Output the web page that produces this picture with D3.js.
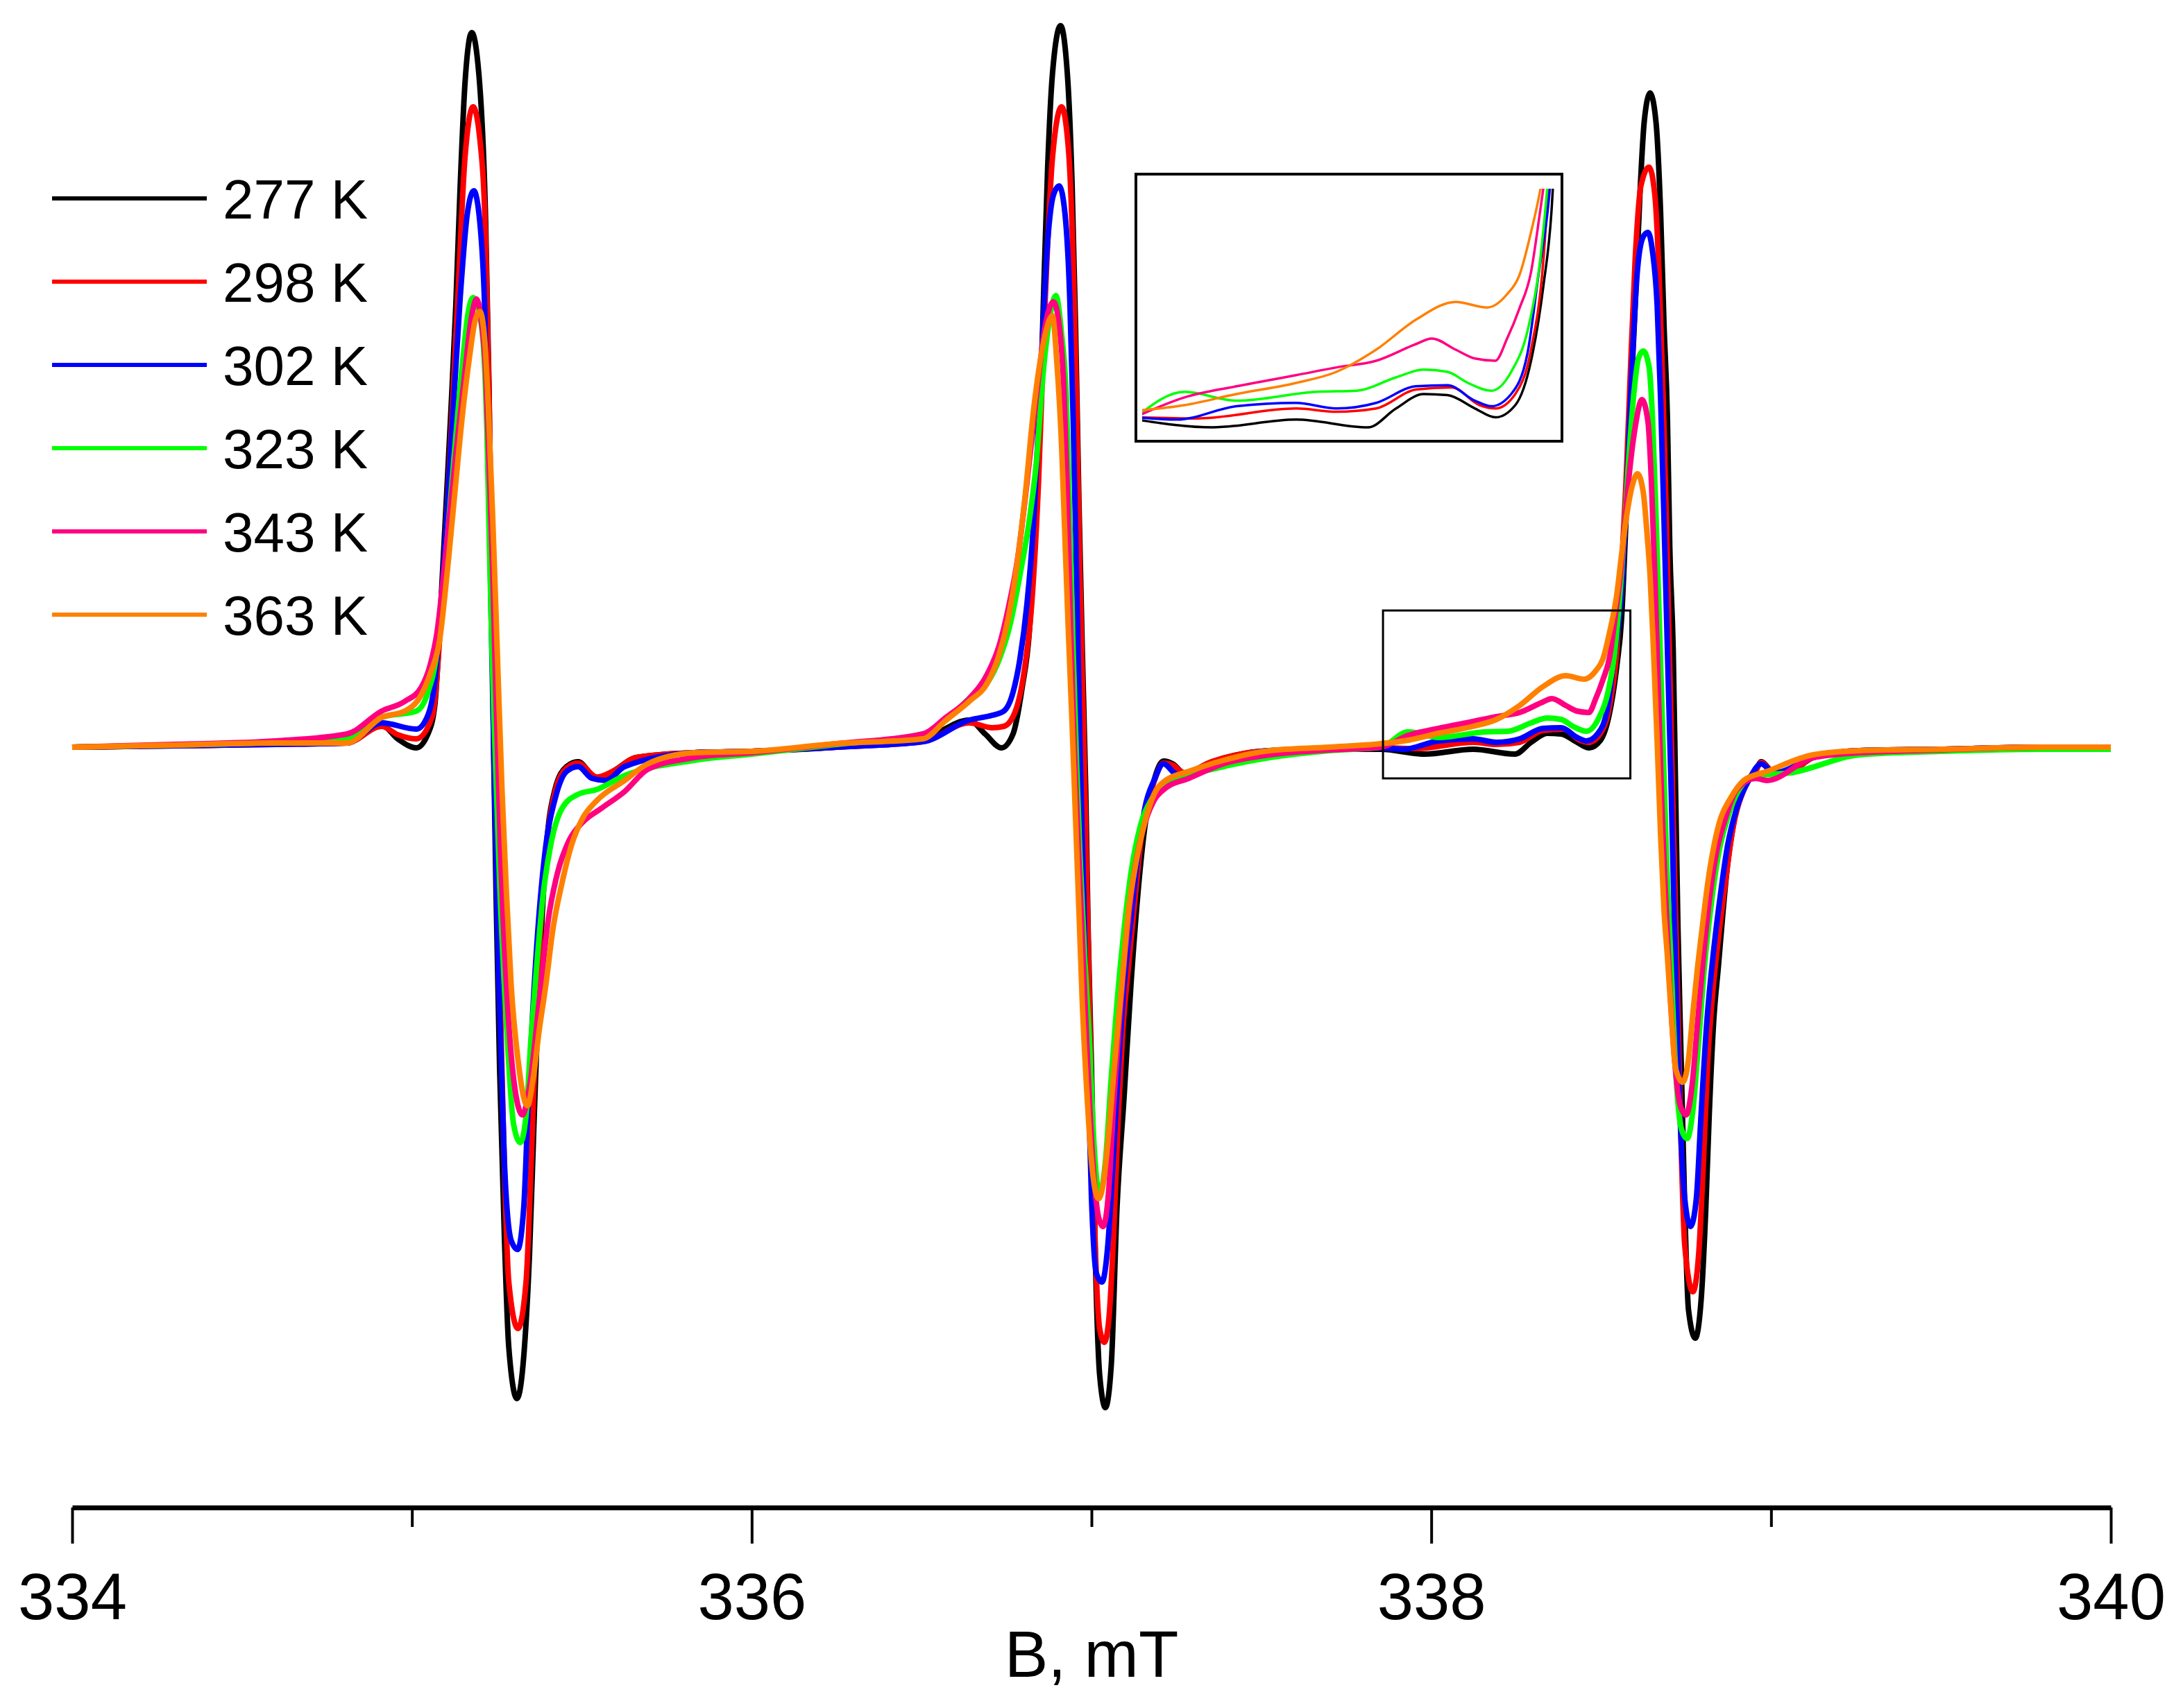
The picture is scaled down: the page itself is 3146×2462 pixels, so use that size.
<!DOCTYPE html>
<html>
<head>
<meta charset="utf-8">
<script src="https://cdn.jsdelivr.net/npm/d3@7"></script>
<style>
  body { margin: 0; background: #fff; }
</style>
</head>
<body>
<div id="chart"></div>
<script>
// EPR spectra at six temperatures, B in mT, signal in arbitrary units
const temps  = ["277 K", "298 K", "302 K", "323 K", "343 K", "363 K"];
const colors = ["#000000", "#ff0000", "#0000ff", "#00ff00", "#ff0080", "#ff8000"];

const majorTicks = [334, 336, 338, 340];
const minorTicks = [335, 337, 339];

const s277 = [
  [334.0, 0.0], [334.3, 0.2], [334.6, 0.5],
  [334.809, 1.0], [334.911, 3.2], [334.958, 1.2], [335.013, -0.1], [335.047, 1.9], [335.067, 5.9],
  [335.088, 23.3], [335.101, 35.4], [335.115, 48.8], [335.129, 63.5], [335.142, 80.9], [335.156, 95.6],
  [335.176, 103.0], [335.197, 97.0], [335.217, 75.6], [335.227, 51.4], [335.234, 24.7], [335.241, -2.1],
  [335.248, -22.2], [335.258, -46.3], [335.272, -70.4], [335.285, -86.5], [335.309, -93.9], [335.333, -85.2],
  [335.346, -73.1], [335.360, -53.0], [335.374, -34.3], [335.394, -15.5], [335.421, -6.1], [335.455, -2.8],
  [335.489, -2.1], [335.544, -4.5], [335.591, -3.5], [335.659, -1.5], [335.830, -0.8],
  [336.0, -0.6], [336.25, 0.0],
  [336.504, 1.2], [336.640, 3.9], [336.687, 1.9], [336.735, -0.1], [336.769, 1.9], [336.796, 8.6],
  [336.817, 16.6], [336.830, 27.3], [336.844, 40.7], [336.858, 63.5], [336.871, 83.6], [336.885, 97.0],
  [336.909, 104.0], [336.929, 97.0], [336.943, 80.9], [336.953, 60.8], [336.963, 35.4], [336.973, 13.9],
  [336.983, -6.1], [336.990, -26.2], [337.000, -46.3], [337.011, -73.1], [337.024, -90.5], [337.041, -95.2],
  [337.058, -89.2], [337.075, -66.4], [337.096, -50.3], [337.116, -34.3], [337.157, -11.5], [337.184, -4.8],
  [337.212, -2.0], [337.239, -2.4], [337.273, -3.7], [337.354, -2.1], [337.524, -0.5],
  [337.700, -0.3],
  [337.851, -0.3], [337.980, -1.0], [338.123, -0.3], [338.246, -1.0], [338.294, 0.7], [338.341, 2.0],
  [338.382, 1.9], [338.429, 0.7], [338.464, -0.1], [338.498, 1.0], [338.525, 5.0], [338.546, 11.7],
  [338.560, 18.5], [338.573, 32.7], [338.586, 48.8], [338.600, 63.5], [338.614, 79.6], [338.627, 90.3],
  [338.644, 94.3], [338.661, 90.3], [338.675, 76.9], [338.685, 60.8], [338.695, 47.4], [338.702, 28.7],
  [338.712, 14.0], [338.719, -6.1], [338.726, -26.2], [338.736, -46.3], [338.746, -66.4], [338.757, -81.1],
  [338.777, -85.2], [338.794, -79.8], [338.808, -66.4], [338.818, -53.0], [338.831, -39.6], [338.845, -31.6],
  [338.859, -23.5], [338.872, -16.9], [338.893, -10.2], [338.920, -5.5], [338.954, -3.5], [338.971, -2.1],
  [339.009, -3.7], [339.056, -3.5], [339.124, -1.5], [339.260, -0.5],
  [339.5, -0.3], [339.8, 0.0], [340.0, 0.0]
];

const s298 = [
  [334.0, 0.0], [334.3, 0.2], [334.6, 0.4],
  [334.809, 0.6], [334.911, 3.0], [334.958, 1.8], [335.013, 1.2], [335.061, 4.6], [335.088, 20.6],
  [335.115, 44.8], [335.135, 64.8], [335.156, 84.9], [335.180, 92.3], [335.200, 87.6], [335.217, 72.9],
  [335.227, 50.1], [335.236, 24.7], [335.244, 0.2], [335.255, -26.2], [335.268, -53.0], [335.285, -77.1],
  [335.312, -83.8], [335.336, -77.0], [335.353, -57.0], [335.370, -34.3], [335.394, -15.5], [335.421, -6.5],
  [335.455, -3.0], [335.489, -2.3], [335.544, -4.3], [335.591, -3.5], [335.659, -1.5], [335.830, -0.8],
  [336.0, -0.6], [336.25, 0.0],
  [336.504, 0.8], [336.640, 3.5], [336.708, 2.8], [336.742, 3.0], [336.776, 5.2], [336.803, 11.3],
  [336.824, 20.6], [336.844, 38.1], [336.864, 64.8], [336.885, 84.9], [336.912, 92.3], [336.932, 86.3],
  [336.946, 70.2], [336.956, 50.1], [336.966, 24.7], [336.977, 1.9], [336.987, -20.9], [336.997, -43.6],
  [337.011, -71.8], [337.024, -83.8], [337.038, -85.8], [337.051, -82.5], [337.065, -70.4], [337.079, -53.0],
  [337.092, -41.0], [337.109, -31.6], [337.130, -20.9], [337.150, -11.5], [337.184, -5.0], [337.212, -2.3],
  [337.239, -2.6], [337.273, -3.7], [337.354, -2.1], [337.524, -0.5],
  [337.700, -0.3],
  [337.851, -0.1], [337.953, -0.2], [338.123, 0.7], [338.192, 0.4], [338.260, 0.7], [338.328, 2.4],
  [338.389, 2.6], [338.437, 1.0], [338.464, 0.7], [338.498, 2.0], [338.525, 6.0], [338.546, 14.0],
  [338.559, 24.7], [338.573, 38.1], [338.586, 54.1], [338.600, 70.2], [338.617, 80.9], [338.641, 83.6],
  [338.658, 79.6], [338.671, 67.5], [338.682, 51.4], [338.692, 32.7], [338.702, 11.3], [338.712, -10.2],
  [338.723, -31.6], [338.733, -53.0], [338.746, -71.8], [338.770, -78.5], [338.787, -73.1], [338.801, -59.7],
  [338.814, -45.0], [338.828, -35.6], [338.845, -27.6], [338.862, -20.9], [338.886, -12.2], [338.920, -6.1],
  [338.954, -3.5], [338.971, -2.2], [339.009, -3.7], [339.056, -3.5], [339.124, -1.5], [339.260, -0.5],
  [339.5, -0.3], [339.8, 0.0], [340.0, 0.0]
];

const s302 = [
  [334.0, 0.0], [334.3, 0.2], [334.6, 0.4],
  [334.809, 0.6], [334.911, 3.5], [335.013, 2.6], [335.047, 4.6], [335.067, 9.3], [335.088, 22.0],
  [335.115, 43.4], [335.142, 64.8], [335.163, 76.9], [335.182, 80.2], [335.200, 75.6], [335.214, 63.5],
  [335.225, 40.7], [335.234, 16.6], [335.243, -6.1], [335.255, -32.9], [335.272, -59.7], [335.292, -71.1],
  [335.311, -72.4], [335.329, -66.4], [335.343, -50.3], [335.367, -28.9], [335.394, -14.2], [335.421, -7.5],
  [335.455, -3.5], [335.489, -2.8], [335.530, -4.5], [335.571, -4.8], [335.626, -2.8], [335.830, -0.8],
  [336.0, -0.6], [336.25, 0.0],
  [336.504, 0.8], [336.640, 3.9], [336.708, 4.6], [336.742, 5.2], [336.769, 7.9], [336.789, 12.6],
  [336.810, 20.6], [336.830, 32.7], [336.851, 54.1], [336.871, 72.9], [336.888, 79.6], [336.905, 80.9],
  [336.922, 76.9], [336.936, 64.8], [336.946, 47.4], [336.956, 24.7], [336.966, 0.6], [336.977, -20.9],
  [336.987, -42.3], [337.000, -65.1], [337.014, -75.8], [337.031, -77.1], [337.048, -71.8], [337.062, -61.1],
  [337.079, -46.3], [337.096, -34.3], [337.116, -24.9], [337.137, -15.5], [337.157, -8.8], [337.184, -4.8],
  [337.212, -2.4], [337.252, -3.9], [337.320, -3.2], [337.524, -0.5],
  [337.700, -0.3],
  [337.851, -0.1], [337.919, -0.3], [338.021, 0.9], [338.123, 1.2], [338.192, 0.7], [338.260, 1.2],
  [338.328, 2.7], [338.382, 2.8], [338.429, 1.4], [338.457, 0.9], [338.491, 2.0], [338.519, 5.7],
  [338.535, 11.7], [338.563, 24.7], [338.576, 38.1], [338.590, 54.1], [338.607, 68.9], [338.624, 73.6],
  [338.638, 74.2], [338.651, 71.5], [338.665, 63.5], [338.675, 50.1], [338.685, 32.7], [338.695, 14.0],
  [338.706, -6.1], [338.716, -26.2], [338.729, -49.0], [338.746, -65.1], [338.763, -69.1], [338.780, -65.1],
  [338.794, -53.0], [338.811, -39.6], [338.832, -28.9], [338.852, -20.9], [338.872, -14.2], [338.899, -8.8],
  [338.934, -4.8], [338.971, -2.4], [339.009, -3.7], [339.124, -1.5], [339.260, -0.5],
  [339.5, -0.3], [339.8, 0.0], [340.0, 0.0]
];

const s323 = [
  [334.0, 0.0], [334.3, 0.3], [334.6, 0.7],
  [334.809, 1.2], [334.911, 4.3], [335.013, 5.2], [335.047, 7.9], [335.074, 13.9], [335.095, 24.7],
  [335.122, 40.7], [335.149, 55.5], [335.166, 62.8], [335.180, 64.8], [335.197, 62.8], [335.210, 58.1],
  [335.221, 44.8], [335.227, 31.4], [335.234, 16.6], [335.244, 0.6], [335.258, -19.5], [335.278, -39.6],
  [335.299, -54.3], [335.319, -57.0], [335.336, -53.0], [335.350, -42.3], [335.367, -31.6], [335.387, -20.9],
  [335.408, -14.2], [335.442, -8.8], [335.489, -6.8], [335.544, -6.1], [335.626, -4.1], [335.830, -1.9],
  [336.0, -1.0], [336.25, 0.4],
  [336.504, 1.9], [336.572, 3.9], [336.640, 7.0], [336.694, 9.3], [336.728, 12.6], [336.762, 18.0],
  [336.789, 24.7], [336.817, 32.7], [336.837, 40.7], [336.858, 54.1], [336.878, 62.2], [336.895, 65.1],
  [336.912, 59.5], [336.926, 50.1], [336.936, 32.7], [336.946, 14.0], [336.956, -2.1], [336.966, -15.5],
  [336.980, -30.2], [336.994, -42.3], [337.007, -57.0], [337.024, -64.4], [337.041, -59.7], [337.058, -47.7],
  [337.075, -36.9], [337.096, -26.2], [337.116, -18.2], [337.143, -11.5], [337.177, -7.5], [337.218, -5.5],
  [337.286, -4.1], [337.388, -2.8], [337.524, -1.5],
  [337.700, -0.5],
  [337.851, 0.0], [337.932, 2.2], [338.021, 1.4], [338.158, 2.2], [338.226, 2.3], [338.294, 3.5],
  [338.341, 4.2], [338.382, 4.0], [338.417, 3.0], [338.457, 2.3], [338.491, 4.0], [338.519, 7.7],
  [338.539, 13.4], [338.563, 27.3], [338.580, 40.7], [338.597, 51.4], [338.610, 56.1], [338.624, 57.1],
  [338.641, 54.8], [338.651, 47.4], [338.661, 34.0], [338.672, 16.6], [338.682, 0.6], [338.692, -15.5],
  [338.706, -31.6], [338.719, -46.3], [338.736, -55.0], [338.753, -56.4], [338.770, -52.3], [338.787, -42.3],
  [338.804, -31.6], [338.825, -22.2], [338.845, -15.5], [338.872, -10.2], [338.906, -6.1], [338.954, -4.1],
  [339.056, -3.7], [339.260, -1.1],
  [339.5, -0.6], [339.8, -0.3], [340.0, -0.3]
];

const s343 = [
  [334.0, 0.0], [334.3, 0.4], [334.6, 0.9],
  [334.809, 1.9], [334.911, 5.2], [334.979, 6.6], [335.027, 8.6], [335.054, 11.9], [335.074, 16.6],
  [335.101, 28.7], [335.129, 42.1], [335.156, 54.1], [335.176, 62.2], [335.190, 64.6], [335.204, 61.5],
  [335.217, 54.1], [335.227, 40.7], [335.238, 24.7], [335.248, 5.9], [335.261, -15.5], [335.278, -34.3],
  [335.299, -47.7], [335.325, -53.0], [335.346, -49.0], [335.374, -36.9], [335.401, -24.9], [335.428, -18.2],
  [335.462, -13.5], [335.503, -10.8], [335.558, -8.8], [335.626, -6.4], [335.694, -3.2], [335.830, -1.5],
  [336.0, -0.8], [336.25, 0.5],
  [336.504, 1.9], [336.572, 4.3], [336.640, 7.0], [336.694, 10.6], [336.728, 14.6], [336.755, 20.0],
  [336.783, 27.3], [336.810, 38.1], [336.837, 50.1], [336.864, 60.8], [336.888, 64.2], [336.905, 60.8],
  [336.919, 51.4], [336.929, 36.7], [336.939, 16.6], [336.949, 0.6], [336.960, -12.8], [336.973, -27.6],
  [336.987, -43.6], [337.004, -59.7], [337.021, -67.8], [337.034, -69.1], [337.051, -63.7], [337.065, -51.7],
  [337.082, -39.6], [337.103, -27.6], [337.123, -18.9], [337.150, -12.2], [337.184, -7.7], [337.218, -5.9],
  [337.286, -4.5], [337.388, -2.4], [337.524, -1.1],
  [337.700, -0.4],
  [337.851, 0.0], [337.932, 1.7], [338.021, 2.7], [338.123, 3.7], [338.192, 4.4], [338.260, 5.0],
  [338.328, 6.5], [338.355, 7.0], [338.396, 6.0], [338.429, 5.2], [338.464, 5.0], [338.484, 7.0],
  [338.505, 9.7], [338.525, 13.0], [338.539, 17.9], [338.559, 26.0], [338.580, 38.1], [338.600, 46.1],
  [338.620, 50.1], [338.638, 46.8], [338.648, 38.1], [338.658, 24.7], [338.668, 8.6], [338.678, -7.5],
  [338.689, -20.9], [338.702, -34.3], [338.716, -45.0], [338.733, -51.7], [338.750, -53.0], [338.767, -49.0],
  [338.784, -39.6], [338.801, -30.2], [338.818, -22.2], [338.838, -15.5], [338.866, -10.2], [338.900, -6.1],
  [338.954, -4.5], [338.988, -4.8], [339.124, -1.5], [339.260, -0.8],
  [339.5, -0.4], [339.8, 0.0], [340.0, 0.0]
];

const s363 = [
  [334.0, 0.0], [334.3, 0.3], [334.6, 0.6],
  [334.809, 0.6], [334.911, 4.3], [334.979, 5.2], [335.027, 7.5], [335.054, 10.6], [335.081, 15.3],
  [335.108, 27.3], [335.129, 38.1], [335.149, 48.1], [335.169, 56.1], [335.186, 61.5], [335.200, 62.8],
  [335.214, 58.8], [335.225, 48.8], [335.238, 32.7], [335.251, 14.0], [335.265, -6.1], [335.278, -20.9],
  [335.292, -34.3], [335.312, -45.0], [335.340, -51.7], [335.357, -47.7], [335.374, -41.0], [335.394, -34.3],
  [335.415, -26.2], [335.442, -19.5], [335.469, -14.2], [335.503, -10.2], [335.544, -7.7], [335.626, -4.8],
  [335.694, -2.4], [335.830, -0.8],
  [336.0, -0.6], [336.25, 0.5],
  [336.504, 1.2], [336.572, 3.9], [336.640, 6.6], [336.694, 9.3], [336.728, 13.3], [336.755, 18.6],
  [336.776, 24.7], [336.803, 35.4], [336.830, 48.8], [336.858, 58.1], [336.885, 62.2], [336.898, 55.5],
  [336.912, 43.4], [336.922, 30.0], [336.932, 16.6], [336.943, 3.2], [336.953, -10.2], [336.963, -23.5],
  [336.973, -36.9], [336.987, -50.3], [337.000, -59.7], [337.021, -65.1], [337.038, -61.7], [337.048, -57.0],
  [337.069, -45.0], [337.089, -34.3], [337.109, -23.5], [337.130, -16.9], [337.157, -10.8], [337.184, -6.8],
  [337.218, -4.8], [337.286, -3.5], [337.388, -1.9], [337.524, -0.5],
  [337.700, 0.0],
  [337.851, 0.5], [337.932, 1.0], [338.021, 2.0], [338.123, 3.0], [338.192, 4.0], [338.260, 6.0],
  [338.328, 8.7], [338.396, 10.3], [338.450, 9.8], [338.484, 11.0], [338.505, 12.7], [338.525, 16.6],
  [338.546, 22.0], [338.559, 27.3], [338.573, 32.7], [338.590, 37.4], [338.607, 39.4], [338.624, 36.7],
  [338.634, 31.4], [338.644, 24.7], [338.654, 14.0], [338.665, 0.6], [338.675, -12.8], [338.685, -23.5],
  [338.695, -30.2], [338.706, -38.3], [338.719, -46.3], [338.740, -48.3], [338.757, -45.0], [338.770, -38.3],
  [338.784, -31.6], [338.797, -26.2], [338.814, -19.5], [338.832, -14.2], [338.852, -10.2], [338.879, -7.5],
  [338.920, -4.8], [338.988, -3.5], [339.124, -1.1], [339.260, -0.5],
  [339.5, -0.3], [339.8, 0.0], [340.0, 0.0]
];

const series = [s277, s298, s302, s323, s343, s363];

// ── Canvas ────────────────────────────────────────────────────────────────
const width = 3146, height = 2462;
const font = "'Liberation Sans', Arial, sans-serif";

const svg = d3.select("#chart")
  .append("svg")
  .attr("width", width)
  .attr("height", height)
  .style("font-family", font);

// main scales: field axis and signal (no y axis drawn)
const x = d3.scaleLinear().domain([334, 340]).range([104, 3042]);
const y = d3.scaleLinear().domain([-100, 100]).range([2077, 77]);

const line = d3.line()
  .x(d => x(d[0]))
  .y(d => y(d[1]))
  .curve(d3.curveMonotoneX);

// SPECTRA — drawn low to high temperature so orange ends on top
series.forEach((s, i) => {
  svg.append("path")
    .attr("d", line(s))
    .attr("fill", "none")
    .attr("stroke", colors[i])
    .attr("stroke-width", 8)
    .attr("stroke-linejoin", "round");
});

// small frame marking the zoomed region
const zoomFrom = 337.862, zoomTo = 338.590;
svg.append("rect")
  .attr("x", x(zoomFrom) - 2).attr("y", y(19.7))
  .attr("width", x(zoomTo) - x(zoomFrom)).attr("height", y(-4.5) - y(19.7))
  .attr("fill", "none")
  .attr("stroke", "#000")
  .attr("stroke-width", 3);

// INSET — same data, magnified
const xi = d3.scaleLinear().domain([337.862, 338.566]).range([1648, 2241]);
const yi = d3.scaleLinear().domain([0, 20]).range([600, 280]);

svg.append("clipPath").attr("id", "inset-clip")
  .append("rect")
  .attr("x", 1646).attr("y", 272)
  .attr("width", 600).attr("height", 360);

const lineInset = d3.line()
  .x(d => xi(d[0]))
  .y(d => yi(d[1]))
  .curve(d3.curveMonotoneX);

const insetG = svg.append("g").attr("clip-path", "url(#inset-clip)");
series.forEach((s, i) => {
  insetG.append("path")
    .attr("d", lineInset(s.filter(d => d[0] >= 337.8 && d[0] <= 338.7)))
    .attr("fill", "none")
    .attr("stroke", colors[i])
    .attr("stroke-width", 3.5);
});

svg.append("rect")
  .attr("x", 1637).attr("y", 251)
  .attr("width", 614).attr("height", 385)
  .attr("fill", "none")
  .attr("stroke", "#000")
  .attr("stroke-width", 4);

// X AXIS
const axisY = 2173;

const minorG = svg.append("g")
  .attr("transform", `translate(0,${axisY})`)
  .call(d3.axisBottom(x).tickValues(minorTicks).tickSize(28).tickSizeOuter(0).tickFormat(""));
minorG.select(".domain").remove();
minorG.selectAll(".tick line").attr("stroke-width", 4);

const majorG = svg.append("g")
  .attr("transform", `translate(0,${axisY})`)
  .call(d3.axisBottom(x).tickValues(majorTicks).tickSize(52).tickSizeOuter(0).tickFormat(d3.format("d")));
majorG.select(".domain").attr("stroke-width", 7);
majorG.selectAll(".tick line").attr("stroke-width", 4);
majorG.selectAll(".tick text")
  .attr("y", 94)
  .attr("dy", "0.71em")
  .style("font-size", "94px")
  .style("font-family", font)
  .attr("fill", "#000");

svg.append("text")
  .attr("x", (x(334) + x(340)) / 2)
  .attr("y", 2417)
  .attr("text-anchor", "middle")
  .style("font-size", "94px")
  .text("B, mT");

// LEGEND
temps.forEach((t, i) => {
  const ly = 286 + i * 120;
  svg.append("line")
    .attr("x1", 75).attr("x2", 298)
    .attr("y1", ly).attr("y2", ly)
    .attr("stroke", colors[i])
    .attr("stroke-width", 6);
  svg.append("text")
    .attr("x", 321)
    .attr("y", ly + 29)
    .style("font-size", "80px")
    .text(t);
});
</script>
</body>
</html>
